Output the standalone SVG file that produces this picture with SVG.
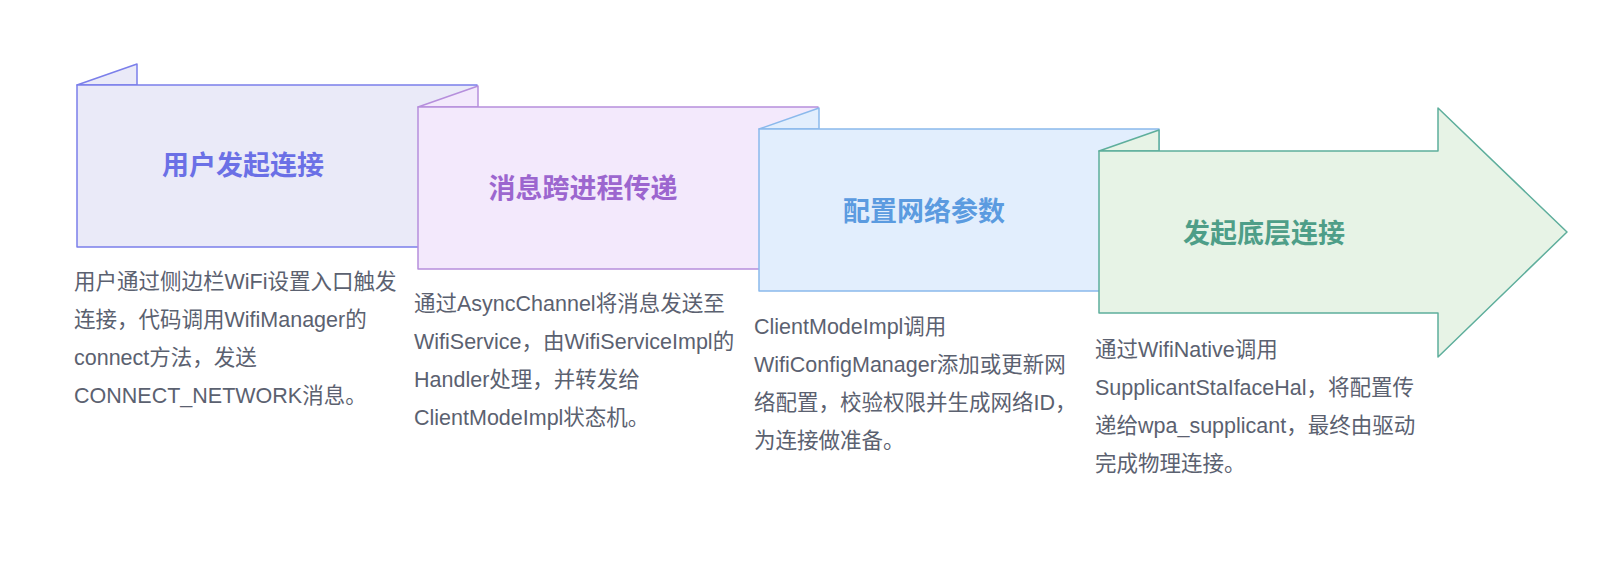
<svg xmlns="http://www.w3.org/2000/svg" width="1620" height="565" viewBox="0 0 1620 565">
<style>
.title{font-family:"Liberation Sans","Noto Sans CJK SC",sans-serif;font-size:27px;font-weight:bold;text-anchor:middle;dominant-baseline:central}
.desc{font-family:"Liberation Sans","Noto Sans CJK SC",sans-serif;font-size:21.5px;fill:#5B6170}
.s1{fill:#EAEAF8;stroke:#7B7FEA;stroke-width:1.5;stroke-linejoin:round}
.s2{fill:#F3E9FC;stroke:#B68FDC;stroke-width:1.5;stroke-linejoin:round}
.s3{fill:#E2EEFD;stroke:#8BB9EC;stroke-width:1.5;stroke-linejoin:round}
.s4{fill:#E7F3E6;stroke:#5EAE9C;stroke-width:1.5;stroke-linejoin:round}
</style>
<rect width="1620" height="565" fill="#FFFFFF"/>
<g id="connectors"></g>
<g id="node1">
<polygon class="s1" points="77,85 137,64 137,85"/>
<rect class="s1" x="77" y="85" width="400" height="162"/>
<text class="title" x="243" y="166" fill="#6B70E6">用户发起连接</text>
</g>
<g id="node2">
<polygon class="s2" points="418,107 478,86 478,107"/>
<rect class="s2" x="418" y="107" width="400" height="162"/>
<text class="title" x="583" y="189" fill="#9C66CF">消息跨进程传递</text>
</g>
<g id="node3">
<polygon class="s3" points="759,129 819,108 819,129"/>
<rect class="s3" x="759" y="129" width="400" height="162"/>
<text class="title" x="924" y="212" fill="#5B9BE0">配置网络参数</text>
</g>
<g id="node4">
<polygon class="s4" points="1099,151 1159,130 1159,151"/>
<polygon class="s4" points="1099,151 1438,151 1438,108 1567,232 1438,357 1438,313 1099,313"/>
<text class="title" x="1264" y="234" fill="#4E9E88">发起底层连接</text>
</g>
<g id="desc1" class="desc">
<text x="74" y="289">用户通过侧边栏WiFi设置入口触发</text>
<text x="74" y="327">连接，代码调用WifiManager的</text>
<text x="74" y="365">connect方法，发送</text>
<text x="74" y="403">CONNECT_NETWORK消息。</text>
</g>
<g id="desc2" class="desc">
<text x="414" y="311">通过AsyncChannel将消息发送至</text>
<text x="414" y="349">WifiService，由WifiServiceImpl的</text>
<text x="414" y="387">Handler处理，并转发给</text>
<text x="414" y="425">ClientModeImpl状态机。</text>
</g>
<g id="desc3" class="desc">
<text x="754" y="334">ClientModeImpl调用</text>
<text x="754" y="372">WifiConfigManager添加或更新网</text>
<text x="754" y="410">络配置，校验权限并生成网络ID，</text>
<text x="754" y="448">为连接做准备。</text>
</g>
<g id="desc4" class="desc">
<text x="1095" y="357">通过WifiNative调用</text>
<text x="1095" y="395">SupplicantStaIfaceHal，将配置传</text>
<text x="1095" y="433">递给wpa_supplicant，最终由驱动</text>
<text x="1095" y="471">完成物理连接。</text>
</g>
</svg>
